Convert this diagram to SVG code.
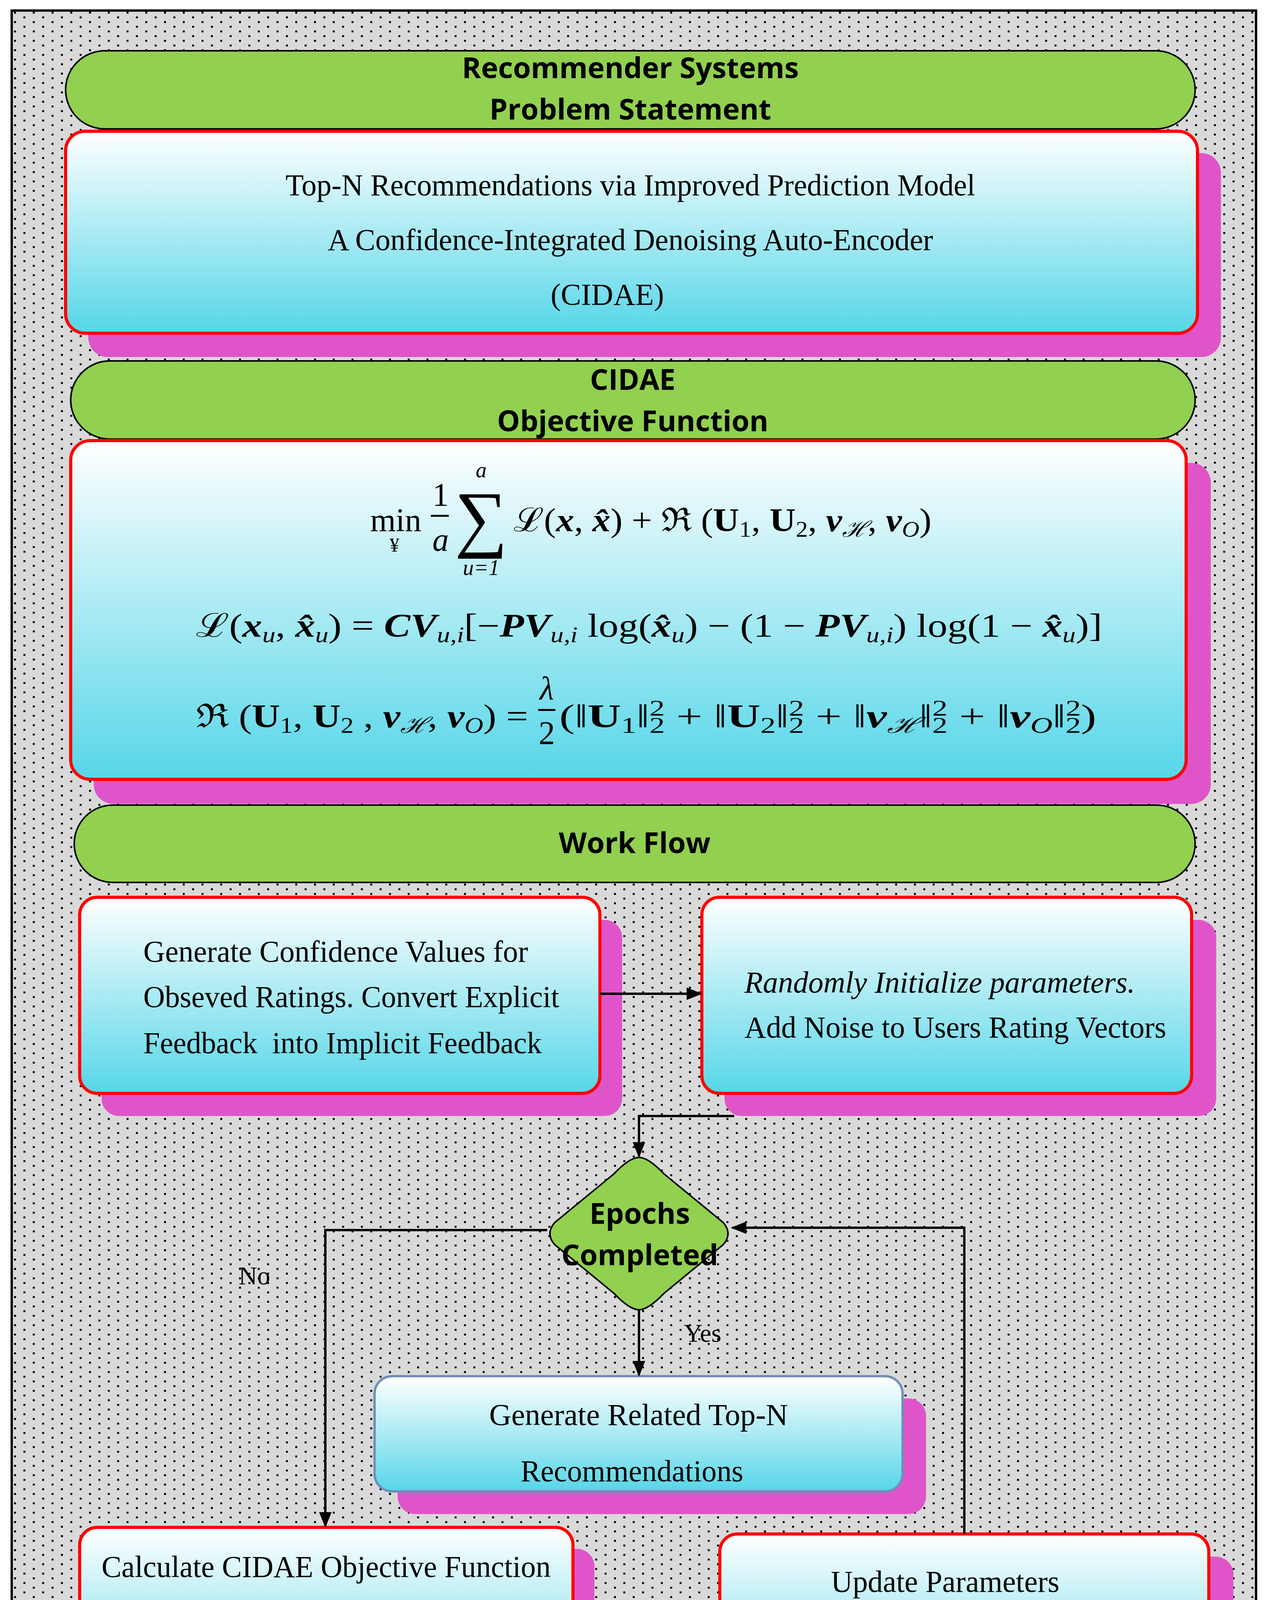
<svg xmlns="http://www.w3.org/2000/svg" width="3244" height="4506" viewBox="0 0 3244 4506">
<defs>
<pattern id="dots" x="0" y="0" width="48" height="24" patternUnits="userSpaceOnUse">
<rect width="48" height="24" fill="#d9d9d9"/>
<rect x="36" y="6" width="5" height="5" fill="#000"/>
<rect x="12" y="18" width="5" height="5" fill="#000"/>
</pattern>
<linearGradient id="cy" x1="0" y1="0" x2="0" y2="1">
<stop offset="0" stop-color="#ffffff"/>
<stop offset="1" stop-color="#56d6e8"/>
</linearGradient>
<marker id="arr" viewBox="0 0 10 10" refX="9" refY="5" markerWidth="40" markerHeight="32" orient="auto" markerUnits="userSpaceOnUse" preserveAspectRatio="none">
<path d="M0,0 L10,5 L0,10 z" fill="#000"/>
</marker>
</defs>
<style>
.hdr{fill:#92d050;stroke:#000;stroke-width:4}
.box{fill:url(#cy);stroke:#ff0000;stroke-width:8}
.sh{fill:#df55c9}
.ht{font-family:"Open Sans","Liberation Sans",sans-serif;font-weight:bold;font-size:74px;text-anchor:middle;fill:#000}
.tt{font-family:"Liberation Serif",serif;font-size:78px;fill:#000}
.m{font-family:"Liberation Serif","DejaVu Serif",serif;font-size:84px;fill:#000}
.c{stroke:#000;stroke-width:6;fill:none}
</style>
<rect x="30" y="27" width="3186" height="4451" fill="url(#dots)" stroke="#000" stroke-width="6"/>

<g id="hdr1"><rect class="hdr" x="168" y="130" width="2892" height="200" rx="100"/>
<text class="ht" x="1614" y="200">Recommender Systems</text><text class="ht" x="1614" y="306">Problem Statement</text></g>
<g id="box1"><rect class="sh" x="226" y="392" width="2900" height="522" rx="50"/>
<rect class="box" x="168" y="336" width="2898" height="517" rx="50"/>
<text class="tt" x="1614" y="500" text-anchor="middle" textLength="1766" lengthAdjust="spacingAndGlyphs">Top-N Recommendations via Improved Prediction Model</text>
<text class="tt" x="1614" y="640" text-anchor="middle" textLength="1550" lengthAdjust="spacingAndGlyphs">A Confidence-Integrated Denoising Auto-Encoder</text>
<text class="tt" x="1555" y="780" text-anchor="middle">(CIDAE)</text></g>

<g id="hdr2"><rect class="hdr" x="181" y="924" width="2879" height="200" rx="100"/>
<text class="ht" x="1620" y="998">CIDAE</text><text class="ht" x="1620" y="1104">Objective Function</text></g>
<g id="box2"><rect class="sh" x="240" y="1185" width="2860" height="873" rx="50"/>
<rect class="box" x="181" y="1128" width="2856" height="867" rx="50"/>
<text class="m" x="948" y="1360">min</text>
<text class="m" x="1010" y="1412" text-anchor="middle" style="font-size:50px">¥</text>
<text class="m" x="1128" y="1295" text-anchor="middle">1</text>
<rect x="1103" y="1318" width="46" height="5" fill="#000"/>
<text class="m" x="1128" y="1410" text-anchor="middle" font-style="italic">a</text>
<text class="m" x="1232" y="1222" text-anchor="middle" font-style="italic" style="font-size:56px">a</text>
<text class="m" x="1232" y="1390" text-anchor="middle" style="font-size:190px">∑</text>
<text class="m" x="1232" y="1472" text-anchor="middle" font-style="italic" style="font-size:56px">u=1</text>
<text class="m" x="1315" y="1360" textLength="1070" lengthAdjust="spacingAndGlyphs">ℒ(<tspan font-weight="bold" font-style="italic">x</tspan>, <tspan font-weight="bold" font-style="italic">x̂</tspan>) + ℜ (<tspan font-weight="bold">U</tspan><tspan font-size="56" dy="14">1</tspan><tspan dy="-14">, </tspan><tspan font-weight="bold">U</tspan><tspan font-size="56" dy="14">2</tspan><tspan dy="-14">, </tspan><tspan font-weight="bold" font-style="italic">v</tspan><tspan font-size="56" dy="14" font-style="italic">ℋ</tspan><tspan dy="-14">, </tspan><tspan font-weight="bold" font-style="italic">v</tspan><tspan font-size="56" dy="14" font-style="italic">O</tspan><tspan dy="-14">)</tspan></text>
<text class="m" x="502" y="1630" textLength="2320" lengthAdjust="spacingAndGlyphs">ℒ(<tspan font-weight="bold" font-style="italic">x</tspan><tspan font-size="56" dy="14" font-style="italic">u</tspan><tspan dy="-14">, </tspan><tspan font-weight="bold" font-style="italic">x̂</tspan><tspan font-size="56" dy="14" font-style="italic">u</tspan><tspan dy="-14">) = </tspan><tspan font-weight="bold" font-style="italic">CV</tspan><tspan font-size="56" dy="14" font-style="italic">u,i</tspan><tspan dy="-14">[−</tspan><tspan font-weight="bold" font-style="italic">PV</tspan><tspan font-size="56" dy="14" font-style="italic">u,i</tspan><tspan dy="-14"> log(</tspan><tspan font-weight="bold" font-style="italic">x̂</tspan><tspan font-size="56" dy="14" font-style="italic">u</tspan><tspan dy="-14">) − (1 − </tspan><tspan font-weight="bold" font-style="italic">PV</tspan><tspan font-size="56" dy="14" font-style="italic">u,i</tspan><tspan dy="-14">) log(1 − </tspan><tspan font-weight="bold" font-style="italic">x̂</tspan><tspan font-size="56" dy="14" font-style="italic">u</tspan><tspan dy="-14">)]</tspan></text>
<text class="m" x="502" y="1862" textLength="850" lengthAdjust="spacingAndGlyphs">ℜ (<tspan font-weight="bold">U</tspan><tspan font-size="56" dy="14">1</tspan><tspan dy="-14">, </tspan><tspan font-weight="bold">U</tspan><tspan font-size="56" dy="14">2</tspan><tspan dy="-14"> , </tspan><tspan font-weight="bold" font-style="italic">v</tspan><tspan font-size="56" dy="14" font-style="italic">ℋ</tspan><tspan dy="-14">, </tspan><tspan font-weight="bold" font-style="italic">v</tspan><tspan font-size="56" dy="14" font-style="italic">O</tspan><tspan dy="-14">)  =</tspan></text>
<text class="m" x="1400" y="1790" text-anchor="middle" font-style="italic">λ</text>
<rect x="1378" y="1815" width="44" height="5" fill="#000"/>
<text class="m" x="1400" y="1905" text-anchor="middle">2</text>
<text class="m" x="1432" y="1862" textLength="1375" lengthAdjust="spacingAndGlyphs">(‖<tspan font-weight="bold">U</tspan><tspan font-size="56" dy="14">1</tspan><tspan dy="-14">‖</tspan><tspan font-size="56" dy="-30">2</tspan><tspan font-size="56" dx="-28" dy="44">2</tspan><tspan dy="-14"> + ‖</tspan><tspan font-weight="bold">U</tspan><tspan font-size="56" dy="14">2</tspan><tspan dy="-14">‖</tspan><tspan font-size="56" dy="-30">2</tspan><tspan font-size="56" dx="-28" dy="44">2</tspan><tspan dy="-14"> + ‖</tspan><tspan font-weight="bold" font-style="italic">v</tspan><tspan font-size="56" dy="14" font-style="italic">ℋ</tspan><tspan dy="-14">‖</tspan><tspan font-size="56" dy="-30">2</tspan><tspan font-size="56" dx="-28" dy="44">2</tspan><tspan dy="-14"> + ‖</tspan><tspan font-weight="bold" font-style="italic">v</tspan><tspan font-size="56" dy="14" font-style="italic">O</tspan><tspan dy="-14">‖</tspan><tspan font-size="56" dy="-30">2</tspan><tspan font-size="56" dx="-28" dy="44">2</tspan><tspan dy="-14">)</tspan></text>
</g>

<g id="hdr3"><rect class="hdr" x="190" y="2061" width="2870" height="198" rx="99"/>
<text class="ht" x="1625" y="2184">Work Flow</text></g>

<g id="boxA"><rect class="sh" x="260" y="2355" width="1333" height="502" rx="45"/>
<rect class="box" x="204" y="2297" width="1332" height="502" rx="45"/>
<text class="tt" x="367" y="2462" textLength="985" lengthAdjust="spacingAndGlyphs">Generate Confidence Values for</text>
<text class="tt" x="367" y="2578" textLength="1065" lengthAdjust="spacingAndGlyphs">Obseved Ratings. Convert Explicit</text>
<text class="tt" x="367" y="2696" textLength="1020" lengthAdjust="spacingAndGlyphs" xml:space="preserve">Feedback  into Implicit Feedback</text></g>

<g id="boxB"><rect class="sh" x="1855" y="2355" width="1259" height="502" rx="45"/>
<rect class="box" x="1797" y="2297" width="1254" height="502" rx="45"/>
<text class="tt" x="1906" y="2541" font-style="italic" textLength="1000" lengthAdjust="spacingAndGlyphs">Randomly Initialize parameters.</text>
<text class="tt" x="1906" y="2656" textLength="1080" lengthAdjust="spacingAndGlyphs">Add Noise to Users Rating Vectors</text></g>

<g id="diamond"><path d="M1636,2963 Q1660,2963 1700,3005 L1852,3130 Q1876,3158 1852,3186 L1700,3311 Q1660,3353 1636,3353 Q1612,3353 1572,3311 L1420,3186 Q1396,3158 1420,3130 L1572,3005 Q1612,2963 1636,2963 z" fill="#92d050" stroke="#000" stroke-width="4"/>
<text class="ht" x="1638" y="3133">Epochs</text><text class="ht" x="1638" y="3239">Completed</text></g>

<g id="boxD"><rect class="sh" x="1018" y="3580" width="1353" height="296" rx="45"/>
<rect x="959" y="3523" width="1352" height="295" rx="45" fill="url(#cy)" stroke="#6f8fb8" stroke-width="6"/>
<text class="tt" x="1635" y="3648" text-anchor="middle" textLength="765" lengthAdjust="spacingAndGlyphs">Generate Related Top-N</text>
<text class="tt" x="1618" y="3792" text-anchor="middle" textLength="570" lengthAdjust="spacingAndGlyphs">Recommendations</text></g>

<g id="boxC"><rect class="sh" x="262" y="3965" width="1260" height="479" rx="45"/>
<rect class="box" x="204" y="3910" width="1263" height="477" rx="45"/>
<text class="tt" x="835" y="4037" text-anchor="middle" textLength="1150" lengthAdjust="spacingAndGlyphs">Calculate CIDAE Objective Function</text>
<text class="tt" x="835" y="4152" text-anchor="middle" textLength="1085" lengthAdjust="spacingAndGlyphs">Via Eq (12). Compute Performance</text>
<text class="tt" x="820" y="4267" text-anchor="middle" textLength="1000" lengthAdjust="spacingAndGlyphs">Metrics P@10, NDCG@10, R@5,</text>
<text class="tt" x="747" y="4382" text-anchor="middle" textLength="660" lengthAdjust="spacingAndGlyphs">R@10, MAP, NDCG</text></g>

<g id="boxE"><rect class="sh" x="1902" y="3985" width="1256" height="465" rx="45"/>
<rect class="box" x="1843" y="3927" width="1252" height="460" rx="45"/>
<text class="tt" x="2420" y="4075" text-anchor="middle" textLength="585" lengthAdjust="spacingAndGlyphs">Update Parameters</text>
<text class="m" x="2100" y="4236">¥ = { <tspan font-weight="bold" font-style="italic">U</tspan><tspan font-size="56" dy="14" font-weight="bold">1</tspan><tspan dy="-14">, </tspan><tspan font-weight="bold" font-style="italic">U</tspan><tspan font-size="56" dy="14" font-weight="bold">2</tspan><tspan dy="-14"> , </tspan><tspan font-weight="bold" font-style="italic">v</tspan><tspan font-size="56" dy="14" font-weight="bold" font-style="italic">ℋ</tspan><tspan dy="-14">, </tspan><tspan font-weight="bold" font-style="italic">v</tspan><tspan font-size="56" dy="14" font-weight="bold" font-style="italic">O</tspan><tspan dy="-14">}</tspan></text></g>

<g id="connectors">
<path class="c" d="M1536,2544 L1794,2544" marker-end="url(#arr)"/>
<path class="c" d="M1880,2857 L1636,2857 L1636,2960" marker-end="url(#arr)"/>
<path class="c" d="M1401,3149 L833,3149 L833,3907" marker-end="url(#arr)"/>
<path class="c" d="M1636,3353 L1636,3520" marker-end="url(#arr)"/>
<path class="c" d="M1467,4154 L1840,4154" marker-end="url(#arr)"/>
<path class="c" d="M2469,3927 L2469,3143 L1875,3143" marker-end="url(#arr)"/>
<text class="tt" x="611" y="3288" style="font-size:66px">No</text>
<text class="tt" x="1751" y="3435" style="font-size:66px">Yes</text>
</g>
</svg>
